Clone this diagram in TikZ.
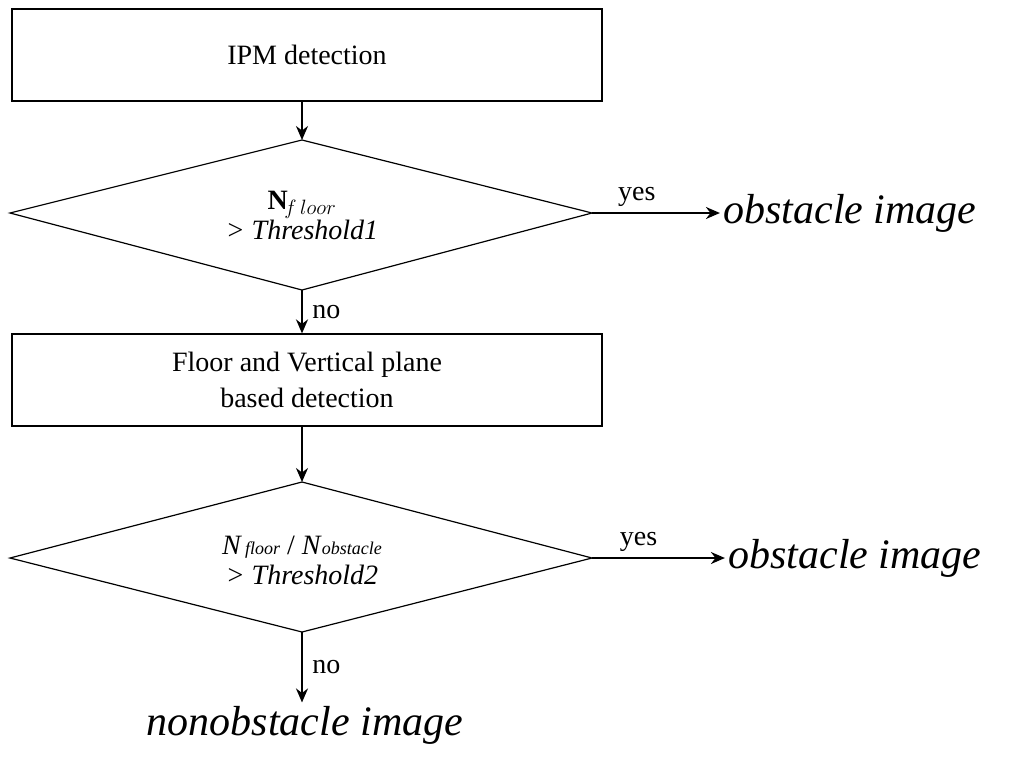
\documentclass[tikz,border=0pt]{standalone}
\usepackage{fontspec}
\setmainfont{Liberation Serif}
\usetikzlibrary{arrows.meta}
\tikzset{
  procbox/.style={draw,line width=1.2pt,minimum width=590pt,minimum height=92pt,inner sep=0pt,align=center,font=\fontsize{28}{36}\selectfont},
  flow/.style={line width=2pt,-{Stealth[length=14pt,width=12pt]}},
  result/.style={font=\fontsize{42}{48}\selectfont\itshape},
  lbl/.style={font=\fontsize{28}{32}\selectfont},
}
\begin{document}
\begin{tikzpicture}[x=1pt,y=1pt,yscale=-1]
\useasboundingbox (0,0) rectangle (1024,766);

% boxes
\node[procbox] (ipm) at (307,55) {IPM detection};
\node[procbox] (fvp) at (307,380) {Floor and Vertical plane\\based detection};

% decisions
\draw[line width=1.2pt] (10,213) -- (302,140) -- (592,213) -- (302,290) -- cycle;
\coordinate (d1t) at (302,140); \coordinate (d1r) at (592,213); \coordinate (d1b) at (302,290);
\node[lbl,align=center] (c1) at (302,215) {$\mathbf{N}_{\!f\,loor}$\\[-2pt]\textit{> Threshold1}};
\draw[line width=1.2pt] (10,558) -- (302,482) -- (592,558) -- (302,632) -- cycle;
\coordinate (d2t) at (302,482); \coordinate (d2r) at (592,558); \coordinate (d2b) at (302,632);
\node[lbl,align=center] (c2) at (302,560) {\textit{N}{\fontsize{18}{20}\selectfont\textit{\,floor}} / \textit{N}{\fontsize{18}{20}\selectfont\textit{obstacle}}\\[-2pt]\textit{> Threshold2}};

% outputs
\node[result] (obs1) at (850,213) {obstacle image};
\node[result] (obs2) at (855,558) {obstacle image};
\node[result] (non) at (305,725) {nonobstacle image};

% connectors
\draw[flow] (ipm.south -| d1t) -- (d1t);
\draw[flow] (d1b) -- (fvp.north -| d1b) node[lbl,midway,right=6pt] {no};
\draw[flow] (fvp.south -| d2t) -- (d2t);
\draw[flow] (d1r) -- (obs1.west) node[lbl,pos=0.35,above=2pt] {yes};
\draw[flow] (d2r) -- (obs2.west) node[lbl,pos=0.35,above=2pt] {yes};
\draw[flow] (d2b) -- (non.north -| d2b) node[lbl,midway,right=6pt] {no};
\end{tikzpicture}
\end{document}
